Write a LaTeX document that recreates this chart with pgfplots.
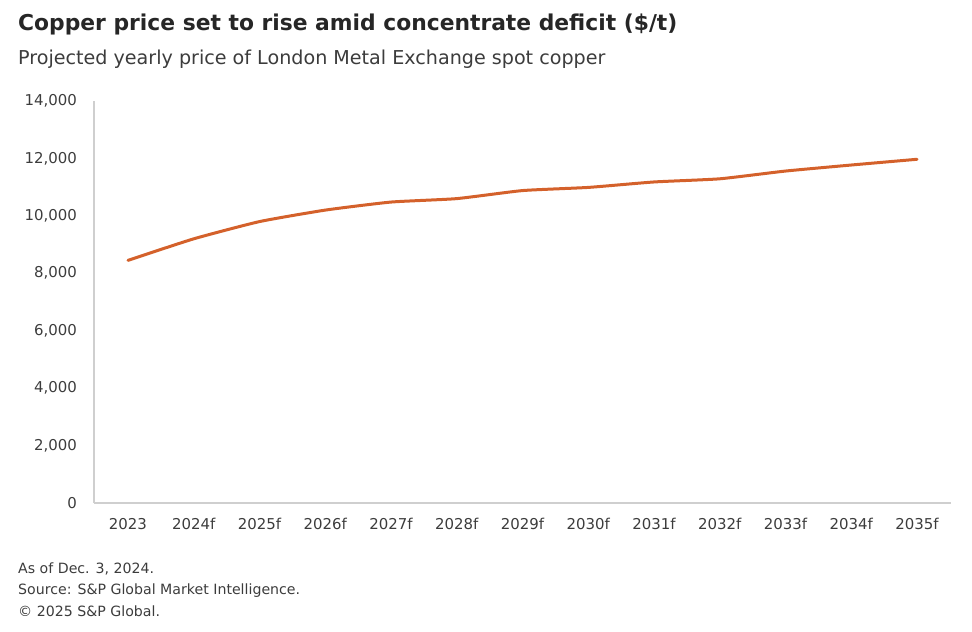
\documentclass[border=0pt]{standalone}
\usepackage{fontspec}
\setmainfont{DejaVu Sans}
\usepackage{pgfplots}
\pgfplotsset{compat=1.18}

\definecolor{copper}{HTML}{D4612B}
\definecolor{axisgray}{HTML}{CFCFCF}
\definecolor{labelgray}{HTML}{3C3C3C}
\definecolor{titlegray}{HTML}{262626}

\begin{document}
\begin{tikzpicture}[x=1bp,y=1bp]
  \useasboundingbox (0,0) rectangle (972,632);

  % Titles
  \node[anchor=base west, inner sep=0, text=titlegray, font=\fontsize{21.9}{24}\selectfont\bfseries]
    at (18,601) {Copper price set to rise amid concentrate deficit (\$/t)};
  \node[anchor=base west, inner sep=0, text=labelgray, font=\fontsize{19.2}{22}\selectfont]
    at (18,567) {Projected yearly price of London Metal Exchange spot copper};

  % Footnotes
  \node[anchor=base west, inner sep=0, text=labelgray, font=\fontsize{14.2}{16}\selectfont]
    at (18,58) {As of Dec. 3, 2024.};
  \node[anchor=base west, inner sep=0, text=labelgray, font=\fontsize{14.2}{16}\selectfont]
    at (18,37) {Source: S\&P Global Market Intelligence.};
  \node[anchor=base west, inner sep=0, text=labelgray, font=\fontsize{14.2}{16}\selectfont]
    at (18,15) {© 2025 S\&P Global.};

  \begin{axis}[
    at={(94bp,129bp)}, anchor=south west,
    scale only axis,
    width=857bp, height=402bp,
    xmin=-0.517, xmax=12.517,
    ymin=0, ymax=14000,
    axis x line*=bottom, axis y line*=left,
    axis line style={axisgray, line width=1.3pt, -},
    major tick length=0pt,
    xtick={0,...,12},
    xticklabels={2023,2024f,2025f,2026f,2027f,2028f,2029f,2030f,2031f,2032f,2033f,2034f,2035f},
    ytick={0,2000,...,14000},
    scaled y ticks=false,
    /pgf/number format/.cd, 1000 sep={,}, assume math mode=true, /pgfplots/.cd,
    tick label style={text=labelgray, font=\fontsize{15}{17}\selectfont, inner sep=0pt},
    yticklabel style={anchor=east, xshift=-17bp},
    xticklabel style={anchor=north, yshift=-15bp},
    clip=false,
  ]
    \addplot[copper, line width=3bp, line join=round, line cap=round, smooth, tension=0.3] coordinates {
      (0,8450) (1,9200) (2,9800) (3,10200) (4,10480) (5,10600) (6,10880)
      (7,10990) (8,11180) (9,11290) (10,11560) (11,11770) (12,11970)
    };
  \end{axis}
\end{tikzpicture}
\end{document}
